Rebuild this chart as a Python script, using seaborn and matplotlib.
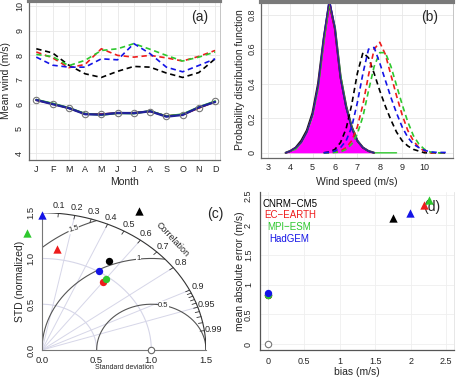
#region Environment Setup

import numpy as np
import matplotlib
matplotlib.use("Agg")
import matplotlib.pyplot as plt
import seaborn as sns

sns.set_style("white")
plt.rcParams['font.family'] = ['Liberation Sans', 'DejaVu Sans']

#endregion Environment Setup

#region Data

models = ['CNRM\u2212CM5', 'EC\u2212EARTH', 'MPI\u2212ESM', 'HadGEM']
model_colors = ['black', '#ee1c1c', '#2ec82e', '#1414e6']

# (a) monthly mean wind
months = ['J', 'F', 'M', 'A', 'M', 'J', 'J', 'A', 'S', 'O', 'N', 'D']
obs_monthly = [6.18, 6.02, 5.85, 5.62, 5.62, 5.65, 5.65, 5.70, 5.53, 5.58, 5.85, 6.12]
cnrm_hist = [6.18, 6.03, 5.84, 5.62, 5.60, 5.65, 5.66, 5.72, 5.52, 5.59, 5.86, 6.12]
ec_hist = [6.17, 6.02, 5.85, 5.61, 5.61, 5.64, 5.65, 5.71, 5.53, 5.58, 5.85, 6.11]
mpi_hist = [6.19, 6.04, 5.86, 5.62, 5.57, 5.64, 5.63, 5.73, 5.52, 5.60, 5.89, 6.13]
had_hist = [6.18, 6.01, 5.85, 5.60, 5.58, 5.65, 5.64, 5.72, 5.50, 5.57, 5.88, 6.10]
cnrm_raw = [8.27, 8.10, 7.60, 7.25, 7.10, 7.35, 7.55, 7.52, 7.28, 7.10, 7.30, 7.86]
ec_raw = [8.14, 7.90, 7.50, 7.63, 8.27, 8.00, 7.93, 8.00, 7.90, 7.77, 7.96, 8.20]
mpi_raw = [8.04, 7.95, 7.58, 7.80, 8.20, 8.27, 8.48, 8.25, 8.00, 7.77, 7.93, 8.14]
had_raw = [7.93, 7.60, 7.52, 7.52, 7.86, 7.82, 8.48, 8.07, 7.52, 7.33, 7.59, 7.86]

# (b) probability density functions
x_hist = [3.8, 4.0, 4.25, 4.5, 4.75, 5.0, 5.25, 5.5, 5.75, 6.0, 6.25, 6.5, 6.75, 7.0, 7.25, 7.5, 7.75]
obs_pdf = [0.0, 0.01, 0.03, 0.06, 0.12, 0.21, 0.38, 0.65, 0.90, 0.72, 0.42, 0.26, 0.14, 0.07, 0.03, 0.01, 0.0]
cnrm_pdf = [0.0, 0.01, 0.03, 0.07, 0.13, 0.23, 0.40, 0.66, 0.87, 0.72, 0.44, 0.27, 0.15, 0.07, 0.03, 0.01, 0.0]
ec_pdf = [0.0, 0.01, 0.03, 0.06, 0.12, 0.22, 0.39, 0.66, 0.88, 0.71, 0.43, 0.26, 0.14, 0.07, 0.03, 0.01, 0.0]
mpi_pdf = [0.0, 0.01, 0.02, 0.06, 0.12, 0.21, 0.37, 0.63, 0.86, 0.73, 0.45, 0.27, 0.15, 0.07, 0.03, 0.01, 0.0]
had_pdf = [0.0, 0.01, 0.03, 0.06, 0.12, 0.22, 0.39, 0.67, 0.89, 0.72, 0.43, 0.26, 0.14, 0.07, 0.03, 0.01, 0.0]
mpi_tail_x = [8.0, 8.75]
mpi_tail = [0.0, 0.0]

x_scen = [5.5, 5.75, 6.0, 6.25, 6.5, 6.75, 7.0, 7.25, 7.5, 7.75, 8.0, 8.25, 8.5,
          8.75, 9.0, 9.25, 9.5, 9.75, 10.0, 10.25, 10.5, 10.75, 11.0]
cnrm_raw_pdf = [0.0, 0.005, 0.02, 0.06, 0.14, 0.28, 0.46, 0.58, 0.55, 0.46, 0.36, 0.27, 0.19,
                0.12, 0.07, 0.04, 0.02, 0.01, 0.0, 0.0, 0.0, 0.0, 0.0]
ec_raw_pdf = [0.0, 0.0, 0.005, 0.01, 0.03, 0.07, 0.15, 0.28, 0.45, 0.60, 0.64, 0.57, 0.45,
              0.33, 0.22, 0.13, 0.07, 0.03, 0.01, 0.0, 0.0, 0.0, 0.0]
mpi_raw_pdf = [0.0, 0.0, 0.002, 0.005, 0.02, 0.05, 0.11, 0.21, 0.36, 0.50, 0.58, 0.58, 0.50,
               0.39, 0.28, 0.18, 0.10, 0.05, 0.02, 0.005, 0.0, 0.0, 0.0]
had_raw_pdf = [0.0, 0.003, 0.01, 0.03, 0.07, 0.15, 0.29, 0.46, 0.60, 0.61, 0.52, 0.42, 0.32,
               0.23, 0.15, 0.09, 0.05, 0.03, 0.015, 0.005, 0.003, 0.002, 0.002]

# (c) Taylor diagram: normalized std and correlation
hist_std = [1.15, 0.925, 0.975, 1.01]
hist_corr = [0.53, 0.60, 0.605, 0.515]
raw_std = [1.76, 1.11, 1.28, 1.47]
raw_corr = [0.505, 0.126, -0.106, 0.0]
corr_labels = [0.1, 0.2, 0.3, 0.4, 0.5, 0.6, 0.7, 0.8, 0.9, 0.95, 0.99]

# (d) bias vs mean absolute error
hist_bias = [0.0, 0.0, 0.0, 0.0]
hist_mae = [0.83, 0.82, 0.82, 0.85]
raw_bias = [1.75, 2.19, 2.25, 1.99]
raw_mae = [2.12, 2.33, 2.42, 2.20]

#endregion Data

#region Figure

fig = plt.figure(figsize=(4.74, 3.79), dpi=100)
W, H = 474, 379


def px_axes(l, t, r, b):
    return fig.add_axes([l / W, 1 - b / H, (r - l) / W, (b - t) / H])


tick_fs = 6.5
label_fs = 7.5


def place_labels(ax, xy, yx):
    ax.xaxis.set_label_coords(0.5, xy)
    ax.yaxis.set_label_coords(yx, 0.5)
    ax.xaxis.label.set_va('center')
    ax.yaxis.label.set_va('center')


def frame(ax):
    ax.grid(True, color='#e8e8e8', lw=0.6)
    for s in ['left', 'bottom']:
        ax.spines[s].set_color('#666666')
        ax.spines[s].set_linewidth(0.9)
    ax.spines['right'].set_color('#bbbbbb')
    ax.spines['right'].set_linewidth(0.6)
    ax.spines['top'].set_color('#7a7a7a')
    ax.spines['top'].set_linewidth(3)
    ax.tick_params(length=0, labelsize=tick_fs, pad=3.5)
    for lab in ax.get_yticklabels():
        lab.set_rotation(90)
        lab.set_va('center')


# (a)
ax_a = px_axes(29, 1.5, 220, 160)
month_pos = list(range(1, 13))
for vals, col in zip([cnrm_raw, ec_raw, mpi_raw, had_raw], model_colors):
    sns.lineplot(x=month_pos, y=vals, ax=ax_a, color=col, lw=1.2, estimator=None, sort=False)
    ax_a.lines[-1].set_dashes((3.2, 2.2))
for vals, col, lw in zip([cnrm_hist, ec_hist, mpi_hist], model_colors[:3], [1.2, 1.2, 1.4]):
    sns.lineplot(x=month_pos, y=vals, ax=ax_a, color=col, lw=lw, estimator=None, sort=False)
sns.lineplot(x=month_pos, y=had_hist, ax=ax_a, color='#22229a', lw=1.7, estimator=None, sort=False)
ax_a.plot(month_pos, obs_monthly, lw=0, marker='o', ms=4.6,
          mfc='none', mec='#777777', mew=0.8)
ax_a.set_xlim(0.55, 12.3)
ax_a.set_ylim(3.73, 10.2)
ax_a.set_xticks(month_pos)
ax_a.set_xticklabels(months)
ax_a.set_yticks([4, 5, 6, 7, 8, 9, 10])
ax_a.set_xlabel('Month', fontsize=label_fs)
ax_a.set_ylabel('Mean wind (m/s)', fontsize=label_fs)
place_labels(ax_a, -0.137, -0.12)
frame(ax_a)
fig.text(200 / W, 1 - 17 / H, '(a)', fontsize=10, ha='center', va='center')

# (b)
ax_b = px_axes(261, 1.5, 453, 158)
ax_b.fill_between(x_hist, obs_pdf, color='#ff00ff', lw=0)
sns.lineplot(x=x_hist, y=cnrm_pdf, ax=ax_b, color='#1a1a1a', lw=1.6, estimator=None, sort=False)
sns.lineplot(x=x_hist + mpi_tail_x, y=mpi_pdf + mpi_tail, ax=ax_b, color=model_colors[2],
             lw=1.0, estimator=None, sort=False)
sns.lineplot(x=x_hist, y=ec_pdf, ax=ax_b, color=model_colors[1], lw=0.9, estimator=None, sort=False)
sns.lineplot(x=x_hist, y=had_pdf, ax=ax_b, color='#22229a', lw=1.0, estimator=None, sort=False)
for vals, col in zip([cnrm_raw_pdf, ec_raw_pdf, mpi_raw_pdf, had_raw_pdf], model_colors):
    sns.lineplot(x=x_scen, y=vals, ax=ax_b, color=col, lw=1.2, estimator=None, sort=False)
    ax_b.lines[-1].set_dashes((3.2, 2.2))
ax_b.set_xlim(2.7, 11.27)
ax_b.set_ylim(-0.03, 0.876)
ax_b.set_xticks([3, 4, 5, 6, 7, 8, 9, 10])
ax_b.set_yticks([0, 0.2, 0.4, 0.6, 0.8])
ax_b.set_yticklabels(['0', '0.2', '0.4', '0.6', '0.8'])
ax_b.set_xlabel('Wind speed (m/s)', fontsize=label_fs)
ax_b.set_ylabel('Probability distribution function', fontsize=label_fs)
place_labels(ax_b, -0.151, -0.109)
frame(ax_b)
fig.text(430 / W, 1 - 17 / H, '(b)', fontsize=10, ha='center', va='center')

# (c) Taylor diagram
ax_c = px_axes(42, 212.7, 206, 350)
grid_col = '#d6d6e8'
arc_col = '#555555'
theta = np.linspace(0, np.pi / 2, 200)
for r in [0.5, 1.0]:
    ax_c.plot(r * np.cos(theta), r * np.sin(theta), color=grid_col, lw=0.8)
for c in [0.2, 0.4, 0.6, 0.8, 0.9, 0.95]:
    a = np.arccos(c)
    ax_c.plot([0, 1.5 * np.cos(a)], [0, 1.5 * np.sin(a)], color=grid_col, lw=0.7)
phi = np.linspace(0, np.pi, 600)
for r in [0.5, 1.0, 1.5]:
    x = 1 + r * np.cos(phi)
    y = r * np.sin(phi)
    keep = (x >= 0) & (x ** 2 + y ** 2 <= 1.5 ** 2 + 1e-9)
    ax_c.plot(x[keep], y[keep], color=arc_col, lw=0.8)
ax_c.plot(1.5 * np.cos(theta), 1.5 * np.sin(theta), color='#333333', lw=0.8)
ticks_c = [0.1, 0.2, 0.3, 0.4, 0.5, 0.6, 0.7, 0.8, 0.9, 0.91, 0.92, 0.93, 0.94,
           0.95, 0.96, 0.97, 0.98, 0.99]
for c in ticks_c:
    a = np.arccos(c)
    ax_c.plot([1.46 * np.cos(a), 1.5 * np.cos(a)], [1.46 * np.sin(a), 1.5 * np.sin(a)],
              color='#333333', lw=0.6, clip_on=False)
for c in corr_labels:
    a = np.arccos(c)
    ax_c.text(1.585 * np.cos(a), 1.585 * np.sin(a), f'{c:g}', fontsize=6.5,
              ha='center', va='center', clip_on=False)
ax_c.text(1.19, 1.21, 'Correlation', rotation=-47, fontsize=6.5, ha='center', va='center')
bb = dict(facecolor='white', edgecolor='none', pad=0.2)
ax_c.text(1.11, 0.49, '0.5', fontsize=5.5, ha='center', va='center', bbox=bb)
ax_c.text(0.88, 0.995, '1', fontsize=5.5, ha='center', va='center', bbox=bb)
ax_c.text(0.29, 1.32, '1.5', fontsize=5.5, ha='center', va='center', rotation=18, bbox=bb)

hist_x = [s * c for s, c in zip(hist_std, hist_corr)]
hist_y = [s * np.sqrt(1 - c ** 2) for s, c in zip(hist_std, hist_corr)]
raw_x = [s * c for s, c in zip(raw_std, raw_corr)]
raw_y = [s * np.sqrt(1 - c ** 2) for s, c in zip(raw_std, raw_corr)]
for i, col in enumerate(model_colors):
    sns.scatterplot(x=[hist_x[i]], y=[hist_y[i]], ax=ax_c, color=col, s=28, marker='o',
                    linewidth=0, clip_on=False, zorder=5)
    sns.scatterplot(x=[raw_x[i]], y=[raw_y[i]], ax=ax_c, color=col, s=36, marker='^',
                    linewidth=0, clip_on=False, zorder=5)
ax_c.plot([1.0], [0.0], marker='o', ms=4.6, mfc='white', mec='#666666', mew=0.8,
          clip_on=False, zorder=5)
ax_c.set_xlim(0, 1.5)
ax_c.set_ylim(0, 1.5)
for s in ['top', 'right']:
    ax_c.spines[s].set_visible(False)
for s in ['left', 'bottom']:
    ax_c.spines[s].set_color('#777777')
    ax_c.spines[s].set_linewidth(0.8)
ax_c.set_xticks([0, 0.5, 1.0, 1.5])
ax_c.set_yticks([0, 0.5, 1.0, 1.5])
ax_c.set_xticklabels(['0.0', '0.5', '1.0', '1.5'])
ax_c.set_yticklabels(['0.0', '0.5', '1.0', '1.5'])
ax_c.tick_params(length=2.5, width=0.6, color='#777777', labelsize=6.8, pad=2)
for lab in ax_c.get_yticklabels():
    lab.set_rotation(90)
    lab.set_va('center')
ax_c.set_xlabel('Standard deviation', fontsize=5)
ax_c.set_ylabel('STD (normalized)', fontsize=label_fs)
place_labels(ax_c, -0.131, -0.134)
fig.text(215 / W, 1 - 214 / H, '(c)', fontsize=10, ha='center', va='center')

# (d)
ax_d = px_axes(260, 192, 454, 350)
for i, col in enumerate(model_colors):
    sns.scatterplot(x=[hist_bias[i]], y=[hist_mae[i]], ax=ax_d, color=col, s=28, marker='o',
                    linewidth=0, zorder=5)
for i, col in enumerate(model_colors):
    sns.scatterplot(x=[raw_bias[i]], y=[raw_mae[i]], ax=ax_d, color=col, s=36, marker='^',
                    linewidth=0, zorder=5)
ax_d.plot([0.0], [0.0], marker='o', ms=4.6, mfc='white', mec='#777777', mew=0.8, zorder=5)
ax_d.set_xlim(-0.117, 2.608)
ax_d.set_ylim(-0.1, 2.556)
ax_d.set_xticks([0, 0.5, 1, 1.5, 2, 2.5])
ax_d.set_xticklabels(['0', '0.5', '1', '1.5', '2', '2.5'])
ax_d.set_yticks([0, 0.5, 1, 1.5, 2, 2.5])
ax_d.set_yticklabels(['0', '0.5', '1', '1.5', '2', '2.5'])
ax_d.grid(True, color='#efefef', lw=0.6)
ax_d.spines['top'].set_visible(False)
ax_d.spines['right'].set_color('#dddddd')
ax_d.spines['right'].set_linewidth(0.5)
for s in ['left', 'bottom']:
    ax_d.spines[s].set_color('#555555')
    ax_d.spines[s].set_linewidth(0.9)
ax_d.tick_params(length=0, labelsize=tick_fs, pad=5)
for lab in ax_d.get_yticklabels():
    lab.set_rotation(90)
    lab.set_va('center')
ax_d.set_xlabel('bias (m/s)', fontsize=label_fs)
ax_d.set_ylabel('mean absolute error (m/s)', fontsize=label_fs)
place_labels(ax_d, -0.139, -0.103)
legend_pos = [(0.015, 0.924), (0.02, 0.854), (0.036, 0.778), (0.046, 0.703)]
for name, col, (lx, ly) in zip(models, model_colors, legend_pos):
    ax_d.text(lx, ly, name, color=col, fontsize=7, transform=ax_d.transAxes,
              ha='left', va='center')
ax_d.text(2.3, 2.3, '(d)', fontsize=10, ha='center', va='center')

fig.savefig('out.png', dpi=100)

#endregion Figure
